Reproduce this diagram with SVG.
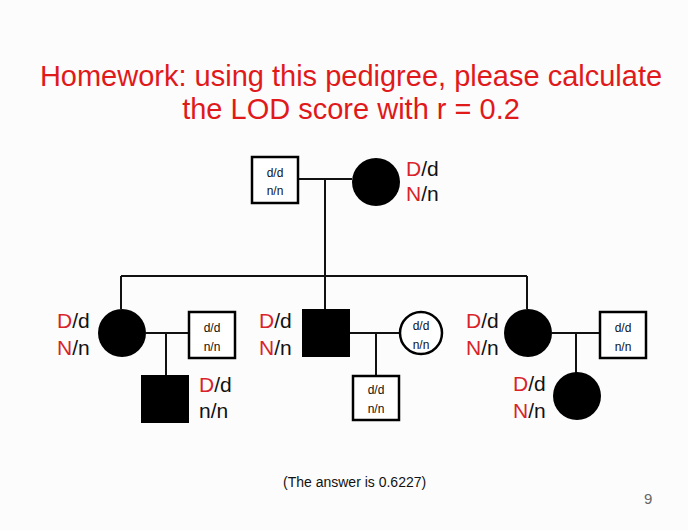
<svg xmlns="http://www.w3.org/2000/svg" width="688" height="530" viewBox="0 0 688 530">
<style>
.t{font-family:"Liberation Sans",Arial,sans-serif}
.title{font-size:29px;fill:#e0191b;text-anchor:middle}
.g{font-size:21px;fill:#111}
.r{fill:#d8232a}
.s{font-size:12px;fill:#111;text-anchor:middle}
.open{fill:#fff;stroke:#000;stroke-width:2.5}
.aff{fill:#000}
.ln{stroke:#111;stroke-width:2;fill:none}
</style>
<rect width="688" height="530" fill="#fcfcfc"/>
<text class="t title" x="351" y="86">Homework: using this pedigree, please calculate</text>
<text class="t title" x="351" y="119">the LOD score with r = 0.2</text>
<g id="connectors" class="ln">
<path d="M298 179H352M325 179V276M121 276H527M121 276V309M325 276V309M527 276V309"/>
<path d="M146 333H188M166 333V375"/>
<path d="M350 333H400M376 333V375"/>
<path d="M552 333H599M576 333V373"/>
</g>
<g id="gf"><rect class="open" x="252" y="157" width="46" height="46"/><text class="t s" x="275" y="177">d/d</text><text class="t s" x="275" y="195">n/n</text></g>
<g id="gm"><circle class="aff" cx="376" cy="182" r="24"/><text class="t g" x="406" y="176"><tspan class="r">D</tspan>/d</text><text class="t g" x="406" y="201"><tspan class="r">N</tspan>/n</text></g>
<g id="d1"><circle class="aff" cx="122" cy="333" r="24"/><text class="t g" x="57" y="328"><tspan class="r">D</tspan>/d</text><text class="t g" x="57" y="355"><tspan class="r">N</tspan>/n</text></g>
<g id="h1"><rect class="open" x="189" y="312" width="46" height="46"/><text class="t s" x="212" y="332">d/d</text><text class="t s" x="212" y="351">n/n</text></g>
<g id="c1"><rect class="aff" x="141" y="375" width="48" height="48"/><text class="t g" x="199" y="392"><tspan class="r">D</tspan>/d</text><text class="t g" x="199" y="418">n/n</text></g>
<g id="s2"><rect class="aff" x="302" y="309" width="48" height="48"/><text class="t g" x="259" y="328"><tspan class="r">D</tspan>/d</text><text class="t g" x="259" y="355"><tspan class="r">N</tspan>/n</text></g>
<g id="w2"><circle class="open" cx="421" cy="333" r="21"/><text class="t s" x="421" y="330">d/d</text><text class="t s" x="421" y="349">n/n</text></g>
<g id="c2"><rect class="open" x="353" y="376" width="46" height="44"/><text class="t s" x="376" y="394">d/d</text><text class="t s" x="376" y="413">n/n</text></g>
<g id="d3"><circle class="aff" cx="528" cy="333" r="24"/><text class="t g" x="466" y="328"><tspan class="r">D</tspan>/d</text><text class="t g" x="466" y="355"><tspan class="r">N</tspan>/n</text></g>
<g id="h3"><rect class="open" x="600" y="312" width="46" height="46"/><text class="t s" x="623" y="332">d/d</text><text class="t s" x="623" y="351">n/n</text></g>
<g id="c3"><circle class="aff" cx="577" cy="396" r="24"/><text class="t g" x="513" y="391"><tspan class="r">D</tspan>/d</text><text class="t g" x="513" y="418"><tspan class="r">N</tspan>/n</text></g>
<text class="t" x="283" y="487" font-size="14" fill="#111">(The answer is 0.6227)</text>
<text class="t" x="644" y="504" font-size="15" fill="#666">9</text>
</svg>
